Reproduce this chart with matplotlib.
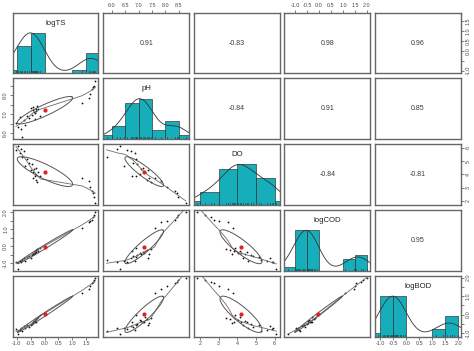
import numpy as np
import matplotlib.pyplot as plt

plt.rcParams['font.family'] = ['Liberation Sans', 'DejaVu Sans']

# Variables (28 sampling points)
names = ['logTS', 'pH', 'DO', 'logCOD', 'logBOD']

logTS = [-1.03, -0.95, -0.90, -0.85, -0.80, -0.75, -0.70, -0.62, -0.55, -0.48, -0.45,
         -0.42, -0.40, -0.38, -0.36, -0.34, -0.32, -0.30, -0.27, -0.22, -0.15,
         1.36, 1.59, 1.65, 1.71, 1.74, 1.78, 1.83]
pH = [6.55, 6.30, 6.85, 6.20, 5.80, 6.70, 6.45, 6.90, 6.80, 7.35, 6.95,
      7.40, 7.20, 7.10, 6.75, 7.05, 7.30, 7.15, 7.45, 7.25, 6.90,
      7.60, 7.85, 8.05, 8.35, 8.42, 8.48, 8.77]
DO = [5.85, 6.10, 5.60, 5.90, 5.30, 5.75, 4.60, 5.15, 4.85, 4.30, 4.75,
      3.70, 4.20, 4.40, 3.85, 4.05, 3.60, 4.50, 3.40, 4.15, 3.90,
      3.75, 3.50, 3.05, 2.75, 2.60, 2.25, 1.85]
logCOD = [-0.92, -1.31, -0.85, -0.95, -0.78, -0.70, -0.88, -0.62, -0.58, -0.66, -0.52,
          -0.45, -0.38, -0.48, -0.30, -0.42, -0.22, -0.35, -0.15, -0.28, -0.10,
          1.10, 1.45, 1.48, 1.55, 1.75, 1.82, 2.00]
logBOD = [-0.80, -1.07, -0.85, -0.72, -0.90, -0.62, -0.75, -0.55, -0.68, -0.58, -0.52,
          -0.45, -0.40, -0.35, -0.42, -0.30, -0.25, -0.38, -0.20, -0.12, -0.05,
          1.15, 1.40, 1.55, 1.68, 1.75, 1.85, 1.97]

# correlations printed in the upper panels (row by row)
corr_labels = ['0.91', '-0.83', '0.98', '0.96',
               '-0.84', '0.91', '0.85',
               '-0.84', '-0.81',
               '0.95']

# axis ticks of each variable, '' = tick without label on the vertical axes
tick_vals = [[-1.0, -0.5, 0.0, 0.5, 1.0, 1.5],
             [6.0, 6.5, 7.0, 7.5, 8.0, 8.5],
             [2, 3, 4, 5, 6],
             [-1.0, -0.5, 0.0, 0.5, 1.0, 1.5, 2.0],
             [-1.0, -0.5, 0.0, 0.5, 1.0, 1.5, 2.0]]
tick_x_labels = [['-1.0', '-0.5', '0.0', '0.5', '1.0', '1.5'],
                 ['6.0', '6.5', '7.0', '7.5', '8.0', '8.5'],
                 ['2', '3', '4', '5', '6'],
                 ['-1.0', '-0.5', '0.0', '0.5', '1.0', '1.5', '2.0'],
                 ['-1.0', '-0.5', '0.0', '0.5', '1.0', '1.5', '2.0']]
tick_y_labels = [['-1.0', '', '0.0', '0.5', '1.0', '1.5'],
                 ['6.0', '', '7.0', '', '8.0', ''],
                 ['2', '3', '4', '5', '6'],
                 ['-1.0', '', '0.0', '', '1.0', '', '2.0'],
                 ['-1.0', '', '0.0', '', '1.0', '', '2.0']]
hist_step = [0.5, 0.5, 1.0, 0.5, 0.5]

data = [np.array(v) for v in (logTS, pH, DO, logCOD, logBOD)]
n_var = len(names)

hist_col = '#17aebb'
frame_col = '#666666'
text_col = '#3a3a3a'


def lowess(x, y, f=2/3, iters=3):
    order = np.argsort(x)
    x = np.asarray(x, float)[order]
    y = np.asarray(y, float)[order]
    n = len(x)
    r = int(np.ceil(f * n))
    robust = np.ones(n)
    fit = np.zeros(n)
    for it in range(iters + 1):
        for i in range(n):
            d = np.abs(x - x[i])
            h = max(np.sort(d)[r - 1], 1e-9)
            w = np.clip(d / h, 0, 1)
            w = (1 - w ** 3) ** 3 * robust
            sw = w.sum()
            xm = (w * x).sum() / sw
            ym = (w * y).sum() / sw
            sxx = (w * (x - xm) ** 2).sum()
            b = (w * (x - xm) * (y - ym)).sum() / sxx if sxx > 1e-12 else 0.0
            fit[i] = ym + b * (x[i] - xm)
        res = y - fit
        s = np.median(np.abs(res))
        if s < 1e-12:
            break
        u = np.clip(res / (6 * s), -1, 1)
        robust = (1 - u ** 2) ** 2
    return x, fit


def density(x, adjust=1.2):
    n = len(x)
    q1, q3 = np.percentile(x, [25, 75])
    bw = 1.06 * min(np.std(x, ddof=1), (q3 - q1) / 1.34) * n ** (-0.2) * adjust
    grid = np.linspace(x.min() - 3 * bw, x.max() + 3 * bw, 512)
    d = np.exp(-0.5 * ((grid[:, None] - x[None, :]) / bw) ** 2).sum(axis=1)
    return grid, d / d.max()


def hist_counts(x, step):
    lo = np.floor(x.min() / step) * step
    hi = np.ceil(x.max() / step) * step
    edges = np.round(np.arange(lo, hi + step / 2, step), 6)
    idx = np.clip(np.searchsorted(edges, x, side='left') - 1, 0, len(edges) - 2)
    counts = np.bincount(idx, minlength=len(edges) - 1)
    return edges, counts


lims = []
for v in data:
    pad = 0.04 * (v.max() - v.min())
    lims.append((v.min() - pad, v.max() + pad))

fig, axes = plt.subplots(n_var, n_var, figsize=(4.74, 3.51), dpi=100)
fig.subplots_adjust(left=0.027, right=0.972, bottom=0.041, top=0.964,
                    wspace=0.057, hspace=0.083)

k = 0
for i in range(n_var):
    for j in range(n_var):
        ax = axes[i, j]
        ax.set_xlim(lims[j])
        ax.set_xticks([])
        ax.set_yticks([])
        for sp in ax.spines.values():
            sp.set_color(frame_col)
            sp.set_linewidth(1.0)

        if i == j:
            # histogram + density + rug
            x = data[i]
            ax.set_ylim(0, 1.5)
            edges, counts = hist_counts(x, hist_step[i])
            heights = counts / counts.max()
            ax.bar(edges[:-1], heights, width=np.diff(edges), align='edge',
                   color=hist_col, edgecolor='#2a2a2a', linewidth=0.45)
            gx, gy = density(x)
            ax.plot(gx, gy, color='#333333', lw=0.6)
            for xv in x:
                ax.plot([xv, xv], [0, 0.05], color='#222222', lw=0.4)
            ax.text(np.mean(lims[i]), 1.24, names[i], ha='center', va='center',
                    fontsize=5.6, color='#222222')
        elif i > j:
            x = data[j]
            y = data[i]
            ax.set_ylim(lims[i])
            ax.plot(x, y, 'o', ms=1.3, color='#111111', mec='none')
            sx, sy = lowess(x, y)
            ax.plot(sx, sy, color='#7a6666', lw=0.6)
            # correlation ellipse (1 sd)
            r = np.corrcoef(x, y)[0, 1]
            th = np.sign(r) / np.sqrt(2)
            ang = np.linspace(0, 2 * np.pi, 52)
            ex = np.cos(ang) * np.sqrt(1 + r) * th - np.sin(ang) * np.sqrt(1 - r) * th
            ey = np.cos(ang) * np.sqrt(1 + r) * th + np.sin(ang) * np.sqrt(1 - r) * th
            ax.plot(ex * x.std(ddof=1) + x.mean(), ey * y.std(ddof=1) + y.mean(),
                    color='#555555', lw=0.7)
            ax.plot(x.mean(), y.mean(), 'o', ms=3.0, color='#e0201b', mec='none')
        else:
            ax.set_ylim(lims[i])
            ax.text(0.5, 0.5, corr_labels[k], transform=ax.transAxes,
                    ha='center', va='center', fontsize=5.0, color=text_col)
            k += 1

        ax.tick_params(length=2.2, width=0.5, pad=1.2, labelsize=3.9,
                       colors='#484848')

        # outer axes as in R pairs(): alternate sides
        if i == n_var - 1 and j % 2 == 0:
            ax.set_xticks(tick_vals[j])
            ax.set_xticklabels(tick_x_labels[j])
        if i == 0 and j % 2 == 1:
            ax.xaxis.tick_top()
            ax.set_xticks(tick_vals[j])
            ax.set_xticklabels(tick_x_labels[j])
        if j == 0 and i % 2 == 1:
            ax.set_yticks(tick_vals[i])
            ax.set_yticklabels(tick_y_labels[i], rotation=90, va='center')
        if j == n_var - 1 and i % 2 == 0:
            ax.yaxis.tick_right()
            vals = np.array(tick_vals[i], float)
            if i == j:
                lo, hi = lims[i]
                vals = (vals - lo) / (hi - lo) * 1.5
            ax.set_yticks(vals)
            ax.set_yticklabels(tick_y_labels[i], rotation=90, va='center')

fig.savefig('out.png', dpi=100)
